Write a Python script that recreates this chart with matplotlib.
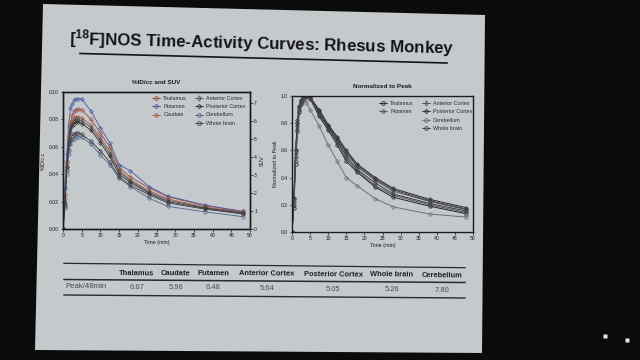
import matplotlib
matplotlib.use('Agg')
import matplotlib.pyplot as plt
from matplotlib.lines import Line2D
from matplotlib.patches import Polygon

plt.rcParams['font.family'] = ['Liberation Sans', 'DejaVu Sans']
plt.rcParams['mathtext.fontset'] = 'custom'
plt.rcParams['mathtext.rm'] = 'Liberation Sans'
plt.rcParams['mathtext.bf'] = 'Liberation Sans:bold'
plt.rcParams['mathtext.default'] = 'regular'

W, H = 640, 360

# ---------------- data ----------------
times = [0, 0.5, 1, 1.5, 2, 2.5, 3, 3.5, 4, 5, 7.5, 10, 12.5, 15, 18, 23, 28, 38, 48]

regions = ["Thalamus", "Putamen", "Caudate", "Anterior Cortex",
           "Posterior Cortex", "Cerebellum", "Whole brain"]

# %ID/cc
pct_thalamus = [0, 0.025, 0.050, 0.068, 0.078, 0.083, 0.086, 0.087, 0.0876, 0.087, 0.080, 0.070, 0.060, 0.045, 0.038, 0.030, 0.0235, 0.017, 0.013]
pct_putamen = [0, 0.030, 0.055, 0.075, 0.088, 0.091, 0.094, 0.095, 0.095, 0.095, 0.086, 0.074, 0.063, 0.047, 0.0425, 0.031, 0.024, 0.0175, 0.0128]
pct_caudate = [0, 0.022, 0.048, 0.065, 0.075, 0.079, 0.081, 0.082, 0.082, 0.081, 0.076, 0.067, 0.057, 0.043, 0.036, 0.028, 0.022, 0.016, 0.0125]
pct_ant_cortex = [0, 0.020, 0.046, 0.063, 0.073, 0.077, 0.079, 0.080, 0.080, 0.079, 0.074, 0.065, 0.055, 0.042, 0.035, 0.027, 0.021, 0.0155, 0.012]
pct_post_cortex = [0, 0.018, 0.045, 0.062, 0.071, 0.075, 0.077, 0.078, 0.078, 0.077, 0.072, 0.063, 0.053, 0.040, 0.034, 0.026, 0.020, 0.015, 0.0115]
pct_cerebellum = [0, 0.015, 0.040, 0.055, 0.062, 0.065, 0.066, 0.067, 0.0675, 0.067, 0.062, 0.054, 0.047, 0.037, 0.031, 0.0225, 0.0165, 0.0125, 0.009]
pct_whole_brain = [0, 0.017, 0.043, 0.058, 0.065, 0.068, 0.069, 0.070, 0.070, 0.069, 0.064, 0.057, 0.049, 0.038, 0.032, 0.025, 0.019, 0.0145, 0.011]

# normalized to peak
norm_thalamus = [0, 0.18, 0.50, 0.74, 0.88, 0.94, 0.97, 0.99, 1.00, 0.98, 0.85, 0.75, 0.64, 0.52, 0.44, 0.33, 0.255, 0.19, 0.135]
norm_putamen = [0, 0.20, 0.52, 0.76, 0.90, 0.96, 0.99, 1.00, 1.00, 0.99, 0.86, 0.76, 0.66, 0.54, 0.45, 0.34, 0.27, 0.20, 0.145]
norm_caudate = [0, 0.20, 0.55, 0.78, 0.90, 0.95, 0.98, 0.99, 1.00, 1.00, 0.87, 0.77, 0.67, 0.56, 0.46, 0.36, 0.28, 0.21, 0.155]
norm_ant_cortex = [0, 0.22, 0.58, 0.80, 0.91, 0.96, 0.98, 1.00, 1.00, 0.99, 0.88, 0.78, 0.68, 0.58, 0.48, 0.38, 0.30, 0.225, 0.165]
norm_post_cortex = [0, 0.25, 0.60, 0.82, 0.93, 0.97, 0.99, 1.00, 1.00, 0.99, 0.90, 0.79, 0.70, 0.60, 0.50, 0.40, 0.32, 0.24, 0.18]
norm_cerebellum = [0, 0.22, 0.58, 0.80, 0.92, 0.97, 1.00, 0.98, 0.95, 0.90, 0.78, 0.64, 0.52, 0.40, 0.34, 0.245, 0.184, 0.132, 0.11]
norm_whole_brain = [0, 0.24, 0.60, 0.80, 0.92, 0.96, 0.99, 1.00, 1.00, 0.99, 0.89, 0.78, 0.69, 0.59, 0.49, 0.39, 0.31, 0.23, 0.17]

table_regions = ["Thalamus", "Caudate", "Putamen", "Anterior Cortex",
                 "Posterior Cortex", "Whole brain", "Cerebellum"]
peak_ratio = ["6.67", "5.96", "6.48", "5.64", "5.05", "5.26", "7.80"]
table_row_label = "Peak/48min"

x_ticks = [0, 5, 10, 15, 20, 25, 30, 35, 40, 45, 50]
pct_ticks = [0.00, 0.02, 0.04, 0.06, 0.08, 0.10]
suv_ticks = [0, 1, 2, 3, 4, 5, 6, 7]
norm_ticks = [0.0, 0.2, 0.4, 0.6, 0.8, 1.0]

pct_series = [pct_thalamus, pct_putamen, pct_caudate, pct_ant_cortex,
              pct_post_cortex, pct_cerebellum, pct_whole_brain]
norm_series = [norm_thalamus, norm_putamen, norm_caudate, norm_ant_cortex,
               norm_post_cortex, norm_cerebellum, norm_whole_brain]

# ---------------- styles ----------------
colors = ['#9a4a3c', '#4a58a8', '#a85a40', '#4c4c4e', '#2e2e30', '#4d6688', '#3c3c40']
markers = ['o', 'D', 'D', 'd', 'D', 'o', 'o']
msizes = [2.4, 1.9, 1.9, 2.4, 1.9, 2.4, 2.4]
norm_colors = ['#242426', '#555558', '#3a3a3c', '#505052', '#2a2a2c', '#6e6e72', '#404042']

SLIDE = '#c4c9cc'
INK = '#1c1c1e'


def fx(x):
    return x / W


def fy(y):
    return 1 - y / H


fig = plt.figure(figsize=(6.4, 3.6), dpi=100, facecolor='#0b0b0c')

# slide
slide = Polygon([(fx(43), fy(4)), (fx(485), fy(15)), (fx(482), fy(353)), (fx(35), fy(350))],
                closed=True, transform=fig.transFigure, facecolor=SLIDE,
                edgecolor='none', zorder=-10)
fig.patches.append(slide)

# slide title
fig.text(fx(262), fy(43), r'[$^{18}$F]NOS Time-Activity Curves: Rhesus Monkey',
         ha='center', va='center', fontsize=12.2, fontweight='bold', color='#141416',
         rotation=-1.4)
fig.add_artist(Line2D([fx(80), fx(447)], [fy(53.5), fy(63)], transform=fig.transFigure,
                      color='#151517', lw=1.2))


def style_axis(ax):
    for s in ax.spines.values():
        s.set_color(INK)
        s.set_linewidth(1.0)
    ax.tick_params(labelsize=3.6, length=1.8, width=0.5, pad=1.2,
                   direction='out', colors=INK)
    ax.set_facecolor('none')


# ---------------- left chart ----------------
ax1 = fig.add_axes([fx(63), fy(229), fx(250) - fx(63), fy(92) - fy(229)])
for i, name in enumerate(regions):
    ax1.plot(times, pct_series[i], color=colors[i], lw=0.6, marker=markers[i],
             ms=msizes[i], mfc='none', mew=0.5, label=name)
ax1.set_xlim(0, 50)
ax1.set_ylim(0, 0.10)
ax1.set_xticks(x_ticks)
ax1.set_yticks(pct_ticks)
ax1.set_yticklabels([f'{v:.2f}' for v in pct_ticks])
style_axis(ax1)
ax1.set_xlabel('Time (min)', fontsize=3.8, labelpad=1.5, color=INK)
ax1.set_ylabel('%ID/c.c', fontsize=3.8, labelpad=2, color=INK)
ax1.set_title('%ID/cc and SUV', fontsize=4.6, color=INK, pad=6, fontweight='bold')

ax1r = ax1.twinx()
ax1r.set_ylim(0, 7.6)
ax1r.set_yticks(suv_ticks)
style_axis(ax1r)
ax1r.set_ylabel('SUV', fontsize=3.8, labelpad=2, color=INK)

blank = Line2D([], [], linestyle='none', label=' ')


def handle(i, c):
    return Line2D([0], [0], color=c, lw=0.6, marker=markers[i], ms=msizes[i] + 0.3,
                  mfc='none', mew=0.6, label=regions[i])


h_left = [handle(0, colors[0]), handle(1, colors[1]), handle(2, colors[2]), blank,
          handle(3, colors[3]), handle(4, colors[4]), handle(5, colors[5]), handle(6, colors[6])]
leg1 = ax1.legend(handles=h_left, loc='upper left', bbox_to_anchor=(fx(152), fy(96)),
                  bbox_transform=fig.transFigure, ncol=2, fontsize=3.9, frameon=False,
                  handlelength=1.5, handletextpad=0.6, columnspacing=1.4,
                  labelspacing=0.6, borderpad=0, borderaxespad=0)
for t in leg1.get_texts():
    t.set_color('#2a2a2c')

# ---------------- right chart ----------------
ax2 = fig.add_axes([fx(292), fy(232), fx(473) - fx(292), fy(96) - fy(232)])
for i, name in enumerate(regions):
    ax2.plot(times, norm_series[i], color=norm_colors[i], lw=0.7, marker=markers[i],
             ms=msizes[i], mfc='none', mew=0.55, label=name)
ax2.set_xlim(0, 50)
ax2.set_ylim(0, 1.0)
ax2.set_xticks(x_ticks)
ax2.set_yticks(norm_ticks)
ax2.set_yticklabels([f'{v:.1f}' for v in norm_ticks])
style_axis(ax2)
ax2.set_xlabel('Time (min)', fontsize=3.8, labelpad=1.5, color=INK)
ax2.set_ylabel('Normalized to Peak', fontsize=3.8, labelpad=2, color=INK)
ax2.set_title('Normalized to Peak', fontsize=4.6, color=INK, pad=6, fontweight='bold')

h_right = [handle(0, norm_colors[0]), handle(1, norm_colors[1]), blank, blank,
           handle(3, norm_colors[3]), handle(4, norm_colors[4]),
           handle(5, norm_colors[5]), handle(6, norm_colors[6])]
leg2 = ax2.legend(handles=h_right, loc='upper left', bbox_to_anchor=(fx(379), fy(101)),
                  bbox_transform=fig.transFigure, ncol=2, fontsize=3.9, frameon=False,
                  handlelength=1.5, handletextpad=0.6, columnspacing=1.4,
                  labelspacing=0.6, borderpad=0, borderaxespad=0)
for t in leg2.get_texts():
    t.set_color('#2a2a2c')

# ---------------- table ----------------
def tilt(x, yl, yr):
    return yl + (x - 64) / (465 - 64) * (yr - yl)


for (yl, yr, lw) in [(263.3, 267.7, 0.9), (279.5, 282.5, 1.1), (295.0, 298.0, 1.0)]:
    fig.add_artist(Line2D([fx(64), fx(465)], [fy(yl), fy(yr)], transform=fig.transFigure,
                          color='#2a2a2c', lw=lw))

col_x = [137, 176, 213, 267, 333, 392, 442]
for x, name, val in zip(col_x, table_regions, peak_ratio):
    fig.text(fx(x), fy(tilt(x, 272.7, 275.5)), name, ha='center', va='center',
             fontsize=5.4, fontweight='bold', color='#1e1e20', rotation=-0.6)
    fig.text(fx(x), fy(tilt(x, 286.5, 290.7)), val, ha='center', va='center',
             fontsize=5.4, color='#4a4a4c', rotation=-0.6)
fig.text(fx(65), fy(286.0), table_row_label, ha='left', va='center',
         fontsize=5.6, color='#4a4a4c')

# small bright specks on the dark background
fig.add_artist(Line2D([fx(605), fx(627)], [fy(336), fy(340)], transform=fig.transFigure,
                      linestyle='none', marker='s', ms=2.2, color='#e8e8e8', mec='none'))

fig.savefig('out.png', dpi=100, facecolor=fig.get_facecolor())
